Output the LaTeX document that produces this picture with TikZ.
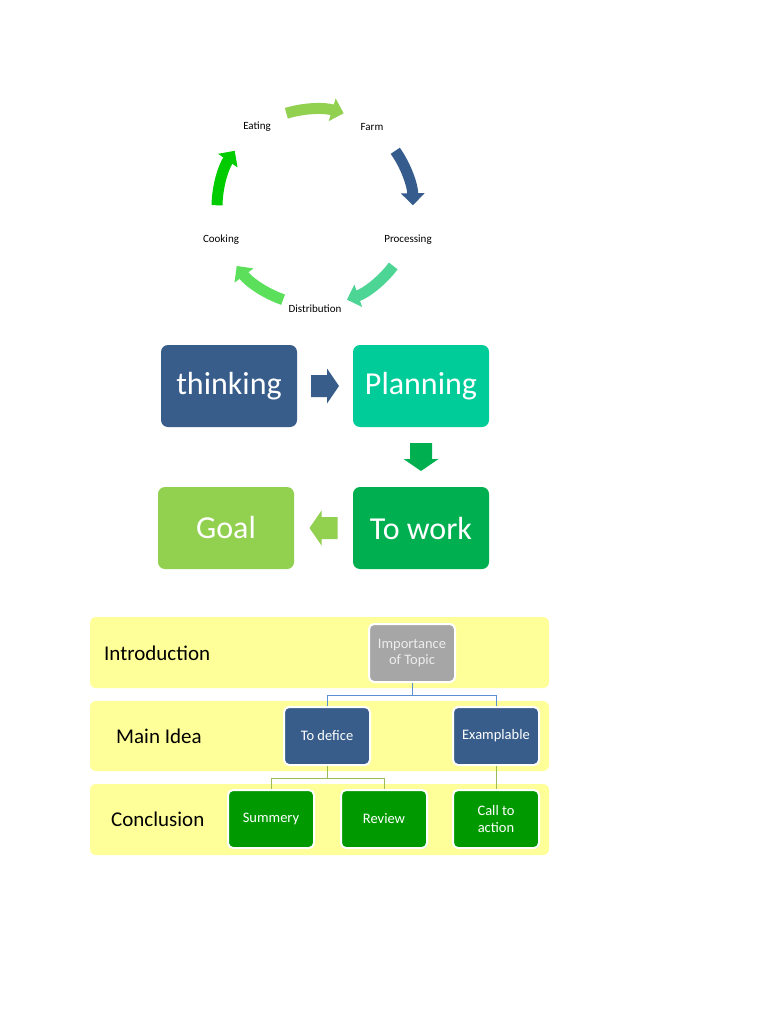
\documentclass[tikz,border=0pt]{standalone}
\usepackage{fontspec}
\setmainfont{Carlito}
\usetikzlibrary{arrows.meta,calc}
\definecolor{dblue}{HTML}{385D8A}
\definecolor{teal1}{HTML}{00CC99}
\definecolor{green1}{HTML}{00B050}
\definecolor{lgreen}{HTML}{92D050}
\definecolor{cycA}{HTML}{92D050}
\definecolor{cycB}{HTML}{355C8C}
\definecolor{cycC}{HTML}{4DD595}
\definecolor{cycD}{HTML}{5CE05C}
\definecolor{cycE}{HTML}{00CC00}
\definecolor{bandy}{HTML}{FFFF99}
\definecolor{grayb}{HTML}{A6A6A6}
\definecolor{greenb}{HTML}{009A00}
\definecolor{lineblue}{HTML}{5B8FD4}
\definecolor{linegreen}{HTML}{9BBB59}
\tikzset{
  cyclabel/.style={font=\fontsize{11}{13}\selectfont, text=black},
  cycarrow/.style={line width=11pt, -{Triangle[width=23pt,length=12pt]}},
  flowbox/.style={rounded corners=7pt, minimum width=136pt, minimum height=82pt, text=white, font=\fontsize{32}{36}\selectfont, inner sep=0pt},
  band/.style={fill=bandy, rounded corners=6pt},
  bandlabel/.style={anchor=west, font=\fontsize{21}{24}\selectfont, text=black, inner sep=0pt},
  treebox/.style={rounded corners=5pt, draw=white, line width=2pt, minimum width=86pt, minimum height=58pt, text=white, font=\fontsize{14.5}{16.5}\selectfont, align=center, inner sep=0pt},
}
\newcommand\blockarrow[3]{%
  \fill[#3, shift={(#1)}, rotate=#2] (-14,-11) -- (2,-11) -- (2,-17.5) -- (14,0) -- (2,17.5) -- (2,11) -- (-14,11) -- cycle;}
\begin{document}
\begin{tikzpicture}[x=1pt,y=-1pt]
\useasboundingbox[fill=white] (0,0) rectangle (768,1024);
% ---------- cycle ----------
\coordinate (cc) at (315,207);
\node[cyclabel] (eating) at (257,127) {Eating};
\node[cyclabel] (farm) at (372,127) {Farm};
\node[cyclabel] (processing) at (408,240) {Processing};
\node[cyclabel] (distribution) at (315,309) {Distribution};
\node[cyclabel] (cooking) at (221,240) {Cooking};
\draw[cycarrow, cycA] ($(cc)+(-107:98)$) arc[start angle=-107, end angle=-73, radius=98];
\draw[cycarrow, cycB] ($(cc)+(-35:98)$) arc[start angle=-35, end angle=-1, radius=98];
\draw[cycarrow, cycC] ($(cc)+(37:98)$) arc[start angle=37, end angle=71, radius=98];
\draw[cycarrow, cycD] ($(cc)+(109:98)$) arc[start angle=109, end angle=143, radius=98];
\draw[cycarrow, cycE] ($(cc)+(181:98)$) arc[start angle=181, end angle=215, radius=98];
% ---------- flow ----------
\node[flowbox, fill=dblue] (thinking) at (229,386) {thinking};
\node[flowbox, fill=teal1] (planning) at (421,386) {Planning};
\node[flowbox, fill=green1] (towork) at (421,528) {To work};
\node[flowbox, fill=lgreen] (goal) at (226,528) {Goal};
\blockarrow{$(thinking.east)!0.5!(planning.west)$}{0}{dblue}
\blockarrow{$(planning.south)!0.5!(towork.north)$}{-90}{green1}
\blockarrow{$(towork.west)!0.5!(goal.east)$}{180}{lgreen}
% ---------- bands ----------
\fill[band] (90,617) rectangle (549,688);
\fill[band] (90,701) rectangle (549,771);
\fill[band] (90,784) rectangle (549,855);
\node[bandlabel] (intro) at (104,653) {Introduction};
\node[bandlabel] (mainidea) at (116,736) {Main Idea};
\node[bandlabel] (concl) at (111,819) {Conclusion};
% ---------- tree ----------
\node[treebox, fill=grayb, text=white!93!black] (imp) at (412,653) {Importance\\of Topic};
\node[treebox, fill=dblue] (defice) at (327,736) {To defice};
\node[treebox, fill=dblue] (exam) at (496,736) {Examplable};
\node[treebox, fill=greenb] (summ) at (271,819) {Summery};
\node[treebox, fill=greenb] (review) at (384,819) {Review};
\node[treebox, fill=greenb] (call) at (496,819) {Call to\\action};
\draw[lineblue, line width=0.8pt] (imp.south) -- ++(0,12) -| (defice.north);
\draw[lineblue, line width=0.8pt] (imp.south) -- ++(0,12) -| (exam.north);
\draw[linegreen, line width=0.8pt] (defice.south) -- ++(0,12) -| (summ.north);
\draw[linegreen, line width=0.8pt] (defice.south) -- ++(0,12) -| (review.north);
\draw[linegreen, line width=0.8pt] (exam.south) -- (call.north);
\end{tikzpicture}
\end{document}
